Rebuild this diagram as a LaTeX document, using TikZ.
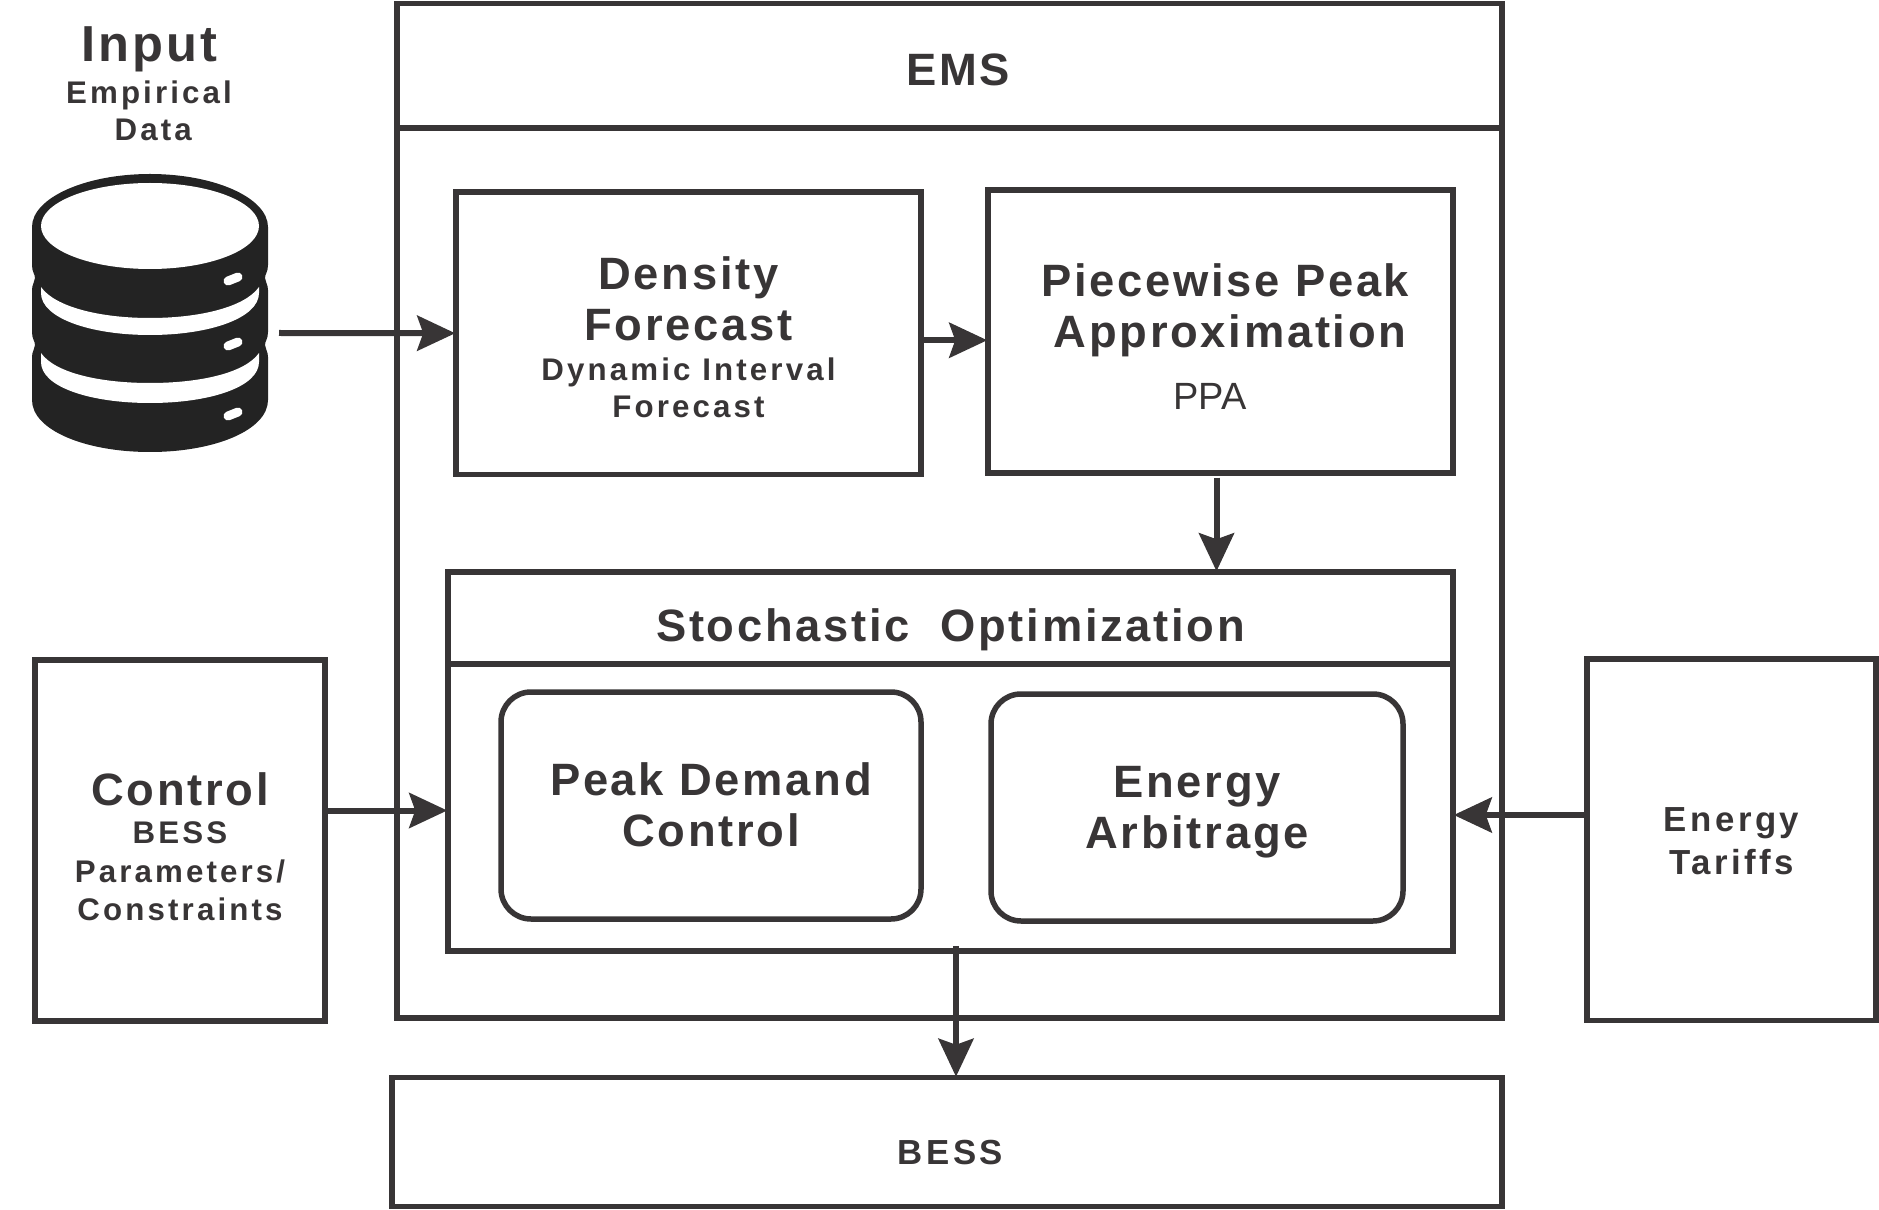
\documentclass[tikz,border=0pt]{standalone}
\usepackage{fontspec}
\usepackage{tikz}
\usetikzlibrary{arrows.meta}
\setmainfont{Liberation Sans}
\newfontfamily\spacedfont[LetterSpace=6]{Liberation Sans}
\newfontfamily\widefont[LetterSpace=10]{Liberation Sans}
\newcommand{\inputfont}{\fontsize{14.4}{14.3}\spacedfont\bfseries}
\newcommand{\titlefont}{\fontsize{12.9}{14.4}\spacedfont\bfseries}
\newcommand{\subfont}{\fontsize{8.9}{10.8}\widefont\bfseries}
\newcommand{\midfont}{\fontsize{9.9}{10.8}\widefont\bfseries}
\newcommand{\plainfont}{\normalfont\fontsize{10.8}{12}\selectfont}
\definecolor{line_gray}{RGB}{56,53,54}
\definecolor{icon_black}{RGB}{35,35,35}

\begin{document}
\begin{tikzpicture}[y=-1cm]
    \tikzstyle{box}=[draw=line_gray, line width=0.055cm, rectangle, inner sep=0pt, align=center, text=line_gray, text depth=0pt, font=\titlefont]
    \tikzstyle{roundbox}=[style=box, rounded corners=0.3cm]
    \tikzstyle{plain}=[inner sep=0pt, align=center, text=line_gray, text depth=0pt, font=\inputfont]
    \tikzstyle{flow}=[-{Stealth[length=0.38cm,width=0.35cm,inset=0.06cm]}, draw=line_gray, line width=0.06cm, shorten >=-0.02cm]
    \useasboundingbox (0,0) rectangle (18.79,12.10);

    % database icon
    \fill[icon_black] (0.32,2.27) .. controls (0.32,1.98) and (0.85,1.74) .. (1.50,1.74)
      .. controls (2.15,1.74) and (2.68,1.98) .. (2.68,2.27) -- (2.68,2.65)
      .. controls (2.68,2.72) and (2.65,2.74) .. (2.65,2.78) .. controls (2.65,2.82) and (2.68,2.84) .. (2.68,2.90) -- (2.68,3.32)
      .. controls (2.68,3.39) and (2.65,3.41) .. (2.65,3.45) .. controls (2.65,3.49) and (2.68,3.51) .. (2.68,3.57) -- (2.68,4.00)
      .. controls (2.68,4.30) and (2.15,4.52) .. (1.50,4.52) .. controls (0.85,4.52) and (0.32,4.30) .. (0.32,4.00) -- (0.32,3.57)
      .. controls (0.32,3.51) and (0.35,3.49) .. (0.35,3.45) .. controls (0.35,3.41) and (0.32,3.39) .. (0.32,3.32) -- (0.32,2.90)
      .. controls (0.32,2.84) and (0.35,2.82) .. (0.35,2.78) .. controls (0.35,2.74) and (0.32,2.72) .. (0.32,2.65) -- cycle;
    \fill[white] (1.50,2.26) ellipse (1.09 and 0.43);
    \fill[white] (0.41,2.87) .. controls (0.55,3.07) and (1.00,3.18) .. (1.50,3.18) .. controls (2.00,3.18) and (2.45,3.07) .. (2.59,2.87)
      -- (2.59,2.93) .. controls (2.59,3.18) and (2.10,3.35) .. (1.50,3.35) .. controls (0.90,3.35) and (0.41,3.18) .. (0.41,2.93) -- cycle;
    \fill[white] (0.41,3.53) .. controls (0.55,3.73) and (1.00,3.83) .. (1.50,3.83) .. controls (2.00,3.83) and (2.45,3.73) .. (2.59,3.53)
      -- (2.59,3.62) .. controls (2.59,3.87) and (2.10,4.03) .. (1.50,4.03) .. controls (0.90,4.03) and (0.41,3.87) .. (0.41,3.62) -- cycle;
    \foreach \y in {2.79,3.44,4.14}
      \draw[white, line width=0.09cm, line cap=round] (2.28,\y+0.02) -- (2.38,\y-0.02);
    \coordinate (db_out) at (2.79,3.33);

    \node[plain, text height=1.14cm] (input) at (1.49,0.84) {Input\\[-2.6pt]{\subfont Empirical}\\[-3.5pt]{\subfont\hspace*{0.084cm}Data}};

    \node[box, minimum width=11.05cm, minimum height=1.245cm, text height=0.39cm] (ems_head) at (9.495,0.6575) {\hspace*{0.17cm}EMS};
    \node[box, minimum width=11.05cm, minimum height=8.90cm] (ems_body) at (9.495,5.73) {};

    \node[box, minimum width=4.65cm, minimum height=2.825cm, text height=1.695cm] (density) at (6.885,3.3325) {Density\\Forecast\\[-3.1pt]{\subfont Dynamic Interval}\\[-3.6pt]{\subfont Forecast}};
    \node[box, minimum width=4.65cm, minimum height=2.83cm, text height=1.57cm] (ppa) at (12.205,3.315) {\hspace*{0.096cm}Piecewise Peak\\\hspace*{0.19cm}Approximation\\[3.4pt]{\plainfont PPA\hspace*{0.21cm}}};

    \node[box, minimum width=10.05cm, minimum height=0.92cm, text height=0.46cm] (stoch_head) at (9.505,6.18) {Stochastic~ Optimization};
    \node[box, minimum width=10.05cm, minimum height=2.87cm] (stoch_body) at (9.505,8.075) {};
    \node[roundbox, minimum width=4.2cm, minimum height=2.27cm, text height=0.81cm] (peak) at (7.11,8.055) {Peak Demand\\Control};
    \node[roundbox, minimum width=4.12cm, minimum height=2.27cm, text height=0.81cm] (arbitrage) at (11.97,8.075) {Energy\\Arbitrage};

    \node[box, minimum width=2.9cm, minimum height=3.61cm, text height=1.59cm] (control) at (1.80,8.405) {Control\\[-3.5pt]{\subfont BESS}\\[-3.5pt]{\subfont Parameters/}\\[-3.6pt]{\subfont Constraints}};
    \node[box, minimum width=2.89cm, minimum height=3.615cm, text height=0.70cm, font=\midfont] (tariffs) at (17.315,8.3975) {Energy\\[1.4pt]Tariffs};
    \node[box, minimum width=11.10cm, minimum height=1.29cm, text height=0.45cm, font=\midfont] (bess) at (9.47,11.42) {\hspace*{0.07cm}BESS};

    \coordinate (ctl_in) at ([yshift=-0.03cm]stoch_body.west);
    \coordinate (tar_in) at ([yshift=-0.075cm]stoch_body.east);
    \coordinate (den_out) at ([yshift=-0.07cm]density.east);
    \coordinate (ppa_out) at ([xshift=-0.04cm,yshift=-0.02cm]ppa.south);
    \coordinate (stoch_out) at ([xshift=0.055cm,yshift=0.08cm]stoch_body.south);

    \path
     (db_out) edge[flow] (density.west)
     (den_out) edge[flow] (den_out -| ppa.west)
     (ppa_out) edge[flow] (ppa_out |- stoch_head.north)
     (control.east |- ctl_in) edge[flow] (ctl_in)
     (tariffs.west |- tar_in) edge[flow] (tar_in)
     (stoch_out) edge[flow] (stoch_out |- bess.north)
     ;
\end{tikzpicture}
\end{document}
